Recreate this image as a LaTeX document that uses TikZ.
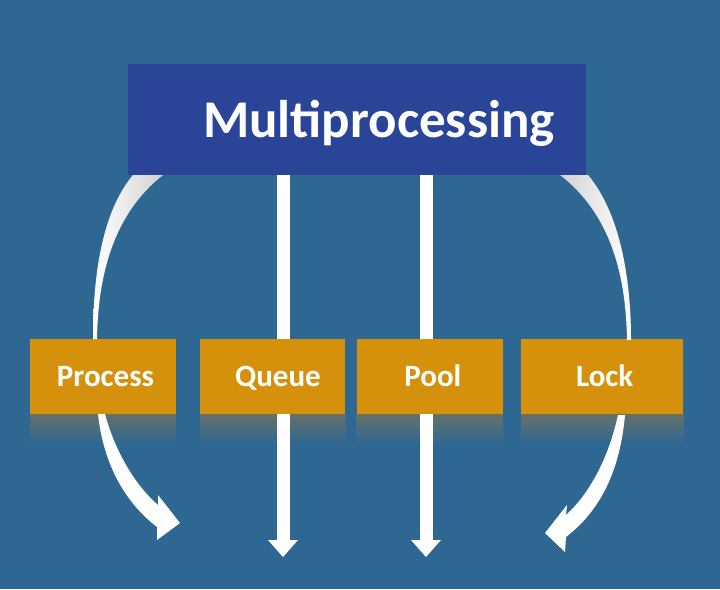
\documentclass[tikz,border=0pt]{standalone}
\usepackage{fontspec}
\setmainfont{Carlito}
\usetikzlibrary{positioning,calc,arrows.meta}
\definecolor{bgblue}{RGB}{46,104,146}
\definecolor{titleblue}{RGB}{42,68,152}
\definecolor{boxorange}{RGB}{213,145,11}
\definecolor{reflgrey}{RGB}{100,112,106}

\begin{document}
\begin{tikzpicture}[x=1pt,y=-1pt,
        module/.style = {fill=boxorange, minimum width=146pt, minimum height=75pt, inner sep=0pt, text height=20pt, text depth=0pt, text=white, font=\bfseries\fontsize{31}{36}\selectfont},
        straight/.style = {draw=white, line width=13pt},
        bend top/.style = {left color=white, right color=white!65!gray},
        bend low/.style = {fill=white}
    ]
    \fill[bgblue] (0,0) rectangle (720,589);
    \useasboundingbox (0,0) rectangle (720,589);
    \node (title) at (357,119.5) [fill=titleblue, minimum width=458pt, minimum height=111pt, inner sep=0pt, text height=35pt, text depth=0pt, text=white, font=\bfseries\fontsize{53}{60}\selectfont] {\hspace*{44pt}Multiprocessing};
    \node[module] (process) at (103,376.5) {\hspace*{5pt}Process};
    \node[module, minimum width=145pt, right=24pt of process] (queue) {\hspace*{10pt}Queue};
    \node[module, right=11pt of queue] (pool) {\hspace*{6pt}Pool};
    \node[module, minimum width=162pt, right=18pt of pool] (lock) {\hspace*{5pt}Lock};
    % reflections under the boxes
    \foreach \b in {process,queue,pool,lock}
        \shade[top color=reflgrey, bottom color=bgblue] (\b.south west) rectangle ($(\b.south east)+(0,30)$);
    % straight arrows
    \coordinate (qline) at (283,0);
    \coordinate (qend) at (283,557);
    \coordinate (pline) at (426,0);
    \coordinate (pend) at (426,557);
    \draw[straight] (title.south -| qline) -- (queue.north -| qline);
    \draw[straight, -{Triangle[width=30pt,length=17pt,line width=0pt]}] (queue.south -| qline) -- (qend);
    \draw[straight] (title.south -| pline) -- (pool.north -| pline);
    \draw[straight, -{Triangle[width=30pt,length=17pt,line width=0pt]}] (pool.south -| pline) -- (pend);
    % curved arrows, left
    \shade[bend top] (133,175) .. controls (102,212) and (93,275) .. (93,339) -- (97,339) .. controls (98,278) and (112,215) .. (163,175) -- cycle;
    \fill[bend low] (98,414) .. controls (103,460) and (122,500) .. (157,527) -- (157,540) -- (180,523) -- (158,495) -- (158,505) .. controls (138,488) and (116,455) .. (105,414) -- cycle;
    % curved arrows, right
    \shade[bend top, left color=white!65!gray, right color=white] (588,175) .. controls (619,212) and (631,275) .. (631,340) -- (627,340) .. controls (626,278) and (612,215) .. (560,175) -- cycle;
    \fill[bend low] (625,415) .. controls (620,470) and (601,510) .. (566,537) -- (565,552) -- (545,533) -- (567,505) -- (566,515) .. controls (585,498) and (607,465) .. (618,415) -- cycle;
\end{tikzpicture}
\end{document}
